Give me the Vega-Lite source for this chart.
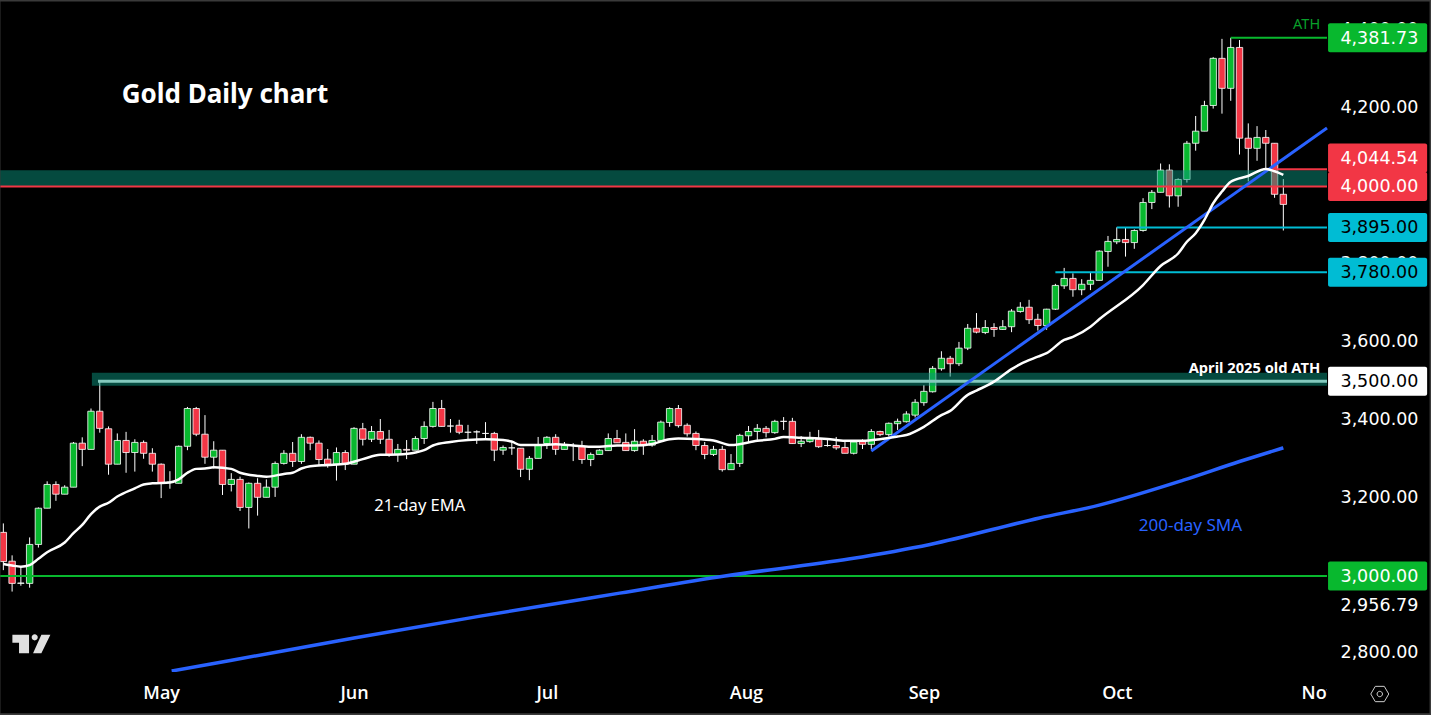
{
  "$schema": "https://vega.github.io/schema/vega-lite/v6.json",
  "width": 1327,
  "height": 672,
  "autosize": "none",
  "padding": {"left": 0, "top": 0, "right": 104, "bottom": 43},
  "background": "#000000",
  "config": {
    "view": {"stroke": null},
    "axis": {"grid": false, "domain": false, "ticks": false, "labelColor": "#ffffff", "labelFont": "DejaVu Sans"},
    "text": {"font": "DejaVu Sans"}
  },
  "datasets": {
    "candles": [
      {"i":0,"o":3112,"h":3135,"l":3015,"c":3037},{"i":1,"o":3038,"h":3053,"l":2960,"c":2981},{"i":2,"o":2981,"h":3024,"l":2975,"c":2982},{"i":3,"o":2981,"h":3099,"l":2970,"c":3081},
      {"i":4,"o":3081,"h":3176,"l":3073,"c":3174},{"i":5,"o":3174,"h":3243,"l":3174,"c":3235},{"i":6,"o":3235,"h":3243,"l":3193,"c":3210},{"i":7,"o":3210,"h":3233,"l":3210,"c":3228},
      {"i":8,"o":3228,"h":3344,"l":3228,"c":3341},{"i":9,"o":3341,"h":3356,"l":3282,"c":3325},{"i":10,"o":3325,"h":3430,"l":3325,"c":3423},{"i":11,"o":3423,"h":3500,"l":3368,"c":3379},
      {"i":12,"o":3378,"h":3384,"l":3260,"c":3287},{"i":13,"o":3287,"h":3366,"l":3287,"c":3348},{"i":14,"o":3348,"h":3370,"l":3265,"c":3317},{"i":15,"o":3317,"h":3351,"l":3268,"c":3343},
      {"i":16,"o":3343,"h":3348,"l":3301,"c":3315},{"i":17,"o":3315,"h":3328,"l":3268,"c":3287},{"i":18,"o":3287,"h":3289,"l":3200,"c":3240},{"i":19,"o":3240,"h":3269,"l":3224,"c":3241},
      {"i":20,"o":3238,"h":3335,"l":3238,"c":3333},{"i":21,"o":3333,"h":3434,"l":3323,"c":3430},{"i":22,"o":3430,"h":3434,"l":3359,"c":3364},{"i":23,"o":3364,"h":3413,"l":3288,"c":3305},
      {"i":24,"o":3305,"h":3346,"l":3276,"c":3323},{"i":25,"o":3323,"h":3323,"l":3208,"c":3235},{"i":26,"o":3235,"h":3264,"l":3217,"c":3248},{"i":27,"o":3248,"h":3255,"l":3167,"c":3176},
      {"i":28,"o":3176,"h":3240,"l":3122,"c":3238},{"i":29,"o":3238,"h":3251,"l":3155,"c":3202},{"i":30,"o":3202,"h":3248,"l":3202,"c":3228},{"i":31,"o":3228,"h":3294,"l":3203,"c":3289},
      {"i":32,"o":3289,"h":3323,"l":3286,"c":3315},{"i":33,"o":3315,"h":3344,"l":3280,"c":3294},{"i":34,"o":3294,"h":3364,"l":3288,"c":3356},{"i":35,"o":3356,"h":3358,"l":3323,"c":3341},
      {"i":36,"o":3341,"h":3348,"l":3283,"c":3299},{"i":37,"o":3300,"h":3326,"l":3278,"c":3287},{"i":38,"o":3287,"h":3330,"l":3245,"c":3317},{"i":39,"o":3317,"h":3323,"l":3272,"c":3287},
      {"i":40,"o":3287,"h":3382,"l":3287,"c":3379},{"i":41,"o":3378,"h":3393,"l":3335,"c":3351},{"i":42,"o":3351,"h":3385,"l":3344,"c":3371},{"i":43,"o":3371,"h":3403,"l":3339,"c":3351},
      {"i":44,"o":3351,"h":3375,"l":3306,"c":3312},{"i":45,"o":3312,"h":3339,"l":3293,"c":3325},{"i":46,"o":3325,"h":3349,"l":3300,"c":3323},{"i":47,"o":3323,"h":3359,"l":3323,"c":3353},
      {"i":48,"o":3353,"h":3397,"l":3339,"c":3384},{"i":49,"o":3384,"h":3447,"l":3381,"c":3430},{"i":50,"o":3430,"h":3452,"l":3384,"c":3384},{"i":51,"o":3385,"h":3403,"l":3368,"c":3385},
      {"i":52,"o":3387,"h":3401,"l":3364,"c":3369},{"i":53,"o":3369,"h":3388,"l":3349,"c":3369},{"i":54,"o":3370,"h":3374,"l":3339,"c":3370},{"i":55,"o":3366,"h":3395,"l":3351,"c":3366},
      {"i":56,"o":3366,"h":3370,"l":3295,"c":3323},{"i":57,"o":3323,"h":3335,"l":3311,"c":3330},{"i":58,"o":3329,"h":3348,"l":3311,"c":3329},{"i":59,"o":3328,"h":3328,"l":3254,"c":3274},
      {"i":60,"o":3274,"h":3308,"l":3246,"c":3302},{"i":61,"o":3302,"h":3357,"l":3302,"c":3335},{"i":62,"o":3340,"h":3359,"l":3326,"c":3356},{"i":63,"o":3356,"h":3364,"l":3311,"c":3325},
      {"i":64,"o":3325,"h":3344,"l":3325,"c":3335},{"i":65,"o":3335,"h":3341,"l":3295,"c":3335},{"i":66,"o":3333,"h":3347,"l":3288,"c":3299},{"i":67,"o":3299,"h":3317,"l":3282,"c":3312},
      {"i":68,"o":3312,"h":3325,"l":3312,"c":3323},{"i":69,"o":3322,"h":3366,"l":3322,"c":3353},{"i":70,"o":3353,"h":3375,"l":3342,"c":3342},{"i":71,"o":3343,"h":3366,"l":3322,"c":3322},
      {"i":72,"o":3322,"h":3377,"l":3319,"c":3346},{"i":73,"o":3346,"h":3351,"l":3311,"c":3336},{"i":74,"o":3336,"h":3362,"l":3332,"c":3348},{"i":75,"o":3348,"h":3399,"l":3347,"c":3395},
      {"i":76,"o":3394,"h":3433,"l":3383,"c":3430},{"i":77,"o":3430,"h":3439,"l":3381,"c":3386},{"i":78,"o":3387,"h":3392,"l":3358,"c":3365},{"i":79,"o":3366,"h":3371,"l":3323,"c":3335},
      {"i":80,"o":3335,"h":3344,"l":3300,"c":3312},{"i":81,"o":3312,"h":3334,"l":3308,"c":3325},{"i":82,"o":3325,"h":3334,"l":3268,"c":3273},{"i":83,"o":3273,"h":3313,"l":3273,"c":3289},
      {"i":84,"o":3289,"h":3365,"l":3280,"c":3361},{"i":85,"o":3360,"h":3385,"l":3344,"c":3371},{"i":86,"o":3371,"h":3390,"l":3349,"c":3379},{"i":87,"o":3379,"h":3385,"l":3356,"c":3368},
      {"i":88,"o":3368,"h":3401,"l":3365,"c":3397},{"i":89,"o":3397,"h":3408,"l":3375,"c":3397},{"i":90,"o":3397,"h":3406,"l":3340,"c":3340},{"i":91,"o":3340,"h":3359,"l":3331,"c":3346},
      {"i":92,"o":3345,"h":3370,"l":3342,"c":3352},{"i":93,"o":3351,"h":3375,"l":3329,"c":3332},{"i":94,"o":3335,"h":3351,"l":3332,"c":3335},{"i":95,"o":3335,"h":3357,"l":3324,"c":3329},
      {"i":96,"o":3330,"h":3344,"l":3315,"c":3315},{"i":97,"o":3315,"h":3346,"l":3312,"c":3344},{"i":98,"o":3345,"h":3351,"l":3326,"c":3338},{"i":99,"o":3338,"h":3377,"l":3326,"c":3371},
      {"i":100,"o":3371,"h":3373,"l":3359,"c":3363},{"i":101,"o":3363,"h":3394,"l":3358,"c":3392},{"i":102,"o":3391,"h":3404,"l":3375,"c":3397},{"i":103,"o":3396,"h":3423,"l":3394,"c":3416},
      {"i":104,"o":3413,"h":3454,"l":3407,"c":3446},{"i":105,"o":3445,"h":3490,"l":3437,"c":3474},{"i":106,"o":3473,"h":3539,"l":3471,"c":3533},{"i":107,"o":3532,"h":3577,"l":3527,"c":3559},
      {"i":108,"o":3559,"h":3565,"l":3512,"c":3545},{"i":109,"o":3545,"h":3601,"l":3539,"c":3585},{"i":110,"o":3585,"h":3647,"l":3580,"c":3636},{"i":111,"o":3636,"h":3675,"l":3623,"c":3626},
      {"i":112,"o":3625,"h":3657,"l":3621,"c":3638},{"i":113,"o":3638,"h":3649,"l":3614,"c":3633},{"i":114,"o":3633,"h":3657,"l":3632,"c":3640},{"i":115,"o":3640,"h":3685,"l":3626,"c":3680},
      {"i":116,"o":3679,"h":3703,"l":3676,"c":3690},{"i":117,"o":3690,"h":3709,"l":3647,"c":3658},{"i":118,"o":3659,"h":3673,"l":3630,"c":3643},{"i":119,"o":3643,"h":3686,"l":3632,"c":3685},
      {"i":120,"o":3685,"h":3750,"l":3683,"c":3746},{"i":121,"o":3745,"h":3791,"l":3737,"c":3764},{"i":122,"o":3764,"h":3777,"l":3717,"c":3735},{"i":123,"o":3735,"h":3762,"l":3721,"c":3749},
      {"i":124,"o":3749,"h":3779,"l":3734,"c":3759},{"i":125,"o":3759,"h":3836,"l":3759,"c":3834},{"i":126,"o":3833,"h":3873,"l":3794,"c":3859},{"i":127,"o":3858,"h":3895,"l":3852,"c":3864},
      {"i":128,"o":3864,"h":3895,"l":3820,"c":3856},{"i":129,"o":3856,"h":3890,"l":3840,"c":3887},{"i":130,"o":3887,"h":3970,"l":3884,"c":3959},{"i":131,"o":3959,"h":3991,"l":3942,"c":3985},
      {"i":132,"o":3985,"h":4059,"l":3985,"c":4042},{"i":133,"o":4042,"h":4057,"l":3946,"c":3976},{"i":134,"o":3976,"h":4021,"l":3948,"c":4018},{"i":135,"o":4018,"h":4117,"l":4010,"c":4111},
      {"i":136,"o":4111,"h":4181,"l":4092,"c":4142},{"i":137,"o":4142,"h":4220,"l":4142,"c":4208},{"i":138,"o":4208,"h":4332,"l":4200,"c":4329},{"i":139,"o":4329,"h":4379,"l":4187,"c":4252},
      {"i":140,"o":4252,"h":4381.73,"l":4220,"c":4357},{"i":141,"o":4357,"h":4376,"l":4082,"c":4124},{"i":142,"o":4124,"h":4162,"l":4013,"c":4098},{"i":143,"o":4098,"h":4155,"l":4066,"c":4126},
      {"i":144,"o":4126,"h":4145,"l":4042,"c":4111},{"i":145,"o":4111,"h":4111,"l":3971,"c":3980},{"i":146,"o":3980,"h":4019,"l":3887,"c":3954}
    ],
    "ema": [
      {"i":0,"p":3031},{"i":1,"p":3027},{"i":2,"p":3024},{"i":3,"p":3028},{"i":4,"p":3044},{"i":5,"p":3061},{"i":7,"p":3086},{"i":8,"p":3110},{"i":9,"p":3131},{"i":10,"p":3159},{"i":11,"p":3178},{"i":12,"p":3188},{"i":13,"p":3204},{"i":15,"p":3225},{"i":16,"p":3235},{"i":17,"p":3238},{"i":19,"p":3240},{"i":20,"p":3248},{"i":21,"p":3265},{"i":22,"p":3275},{"i":23,"p":3276},{"i":24,"p":3279},{"i":26,"p":3275},{"i":27,"p":3265},{"i":29,"p":3257},{"i":30,"p":3255},{"i":32,"p":3262},{"i":33,"p":3265},
      {"i":34,"p":3276},{"i":35,"p":3282},{"i":37,"p":3285},{"i":39,"p":3288},{"i":41,"p":3300},{"i":43,"p":3311},{"i":45,"p":3312},{"i":47,"p":3317},{"i":48,"p":3323},{"i":49,"p":3335},{"i":51,"p":3344},{"i":53,"p":3349},{"i":55,"p":3351},{"i":57,"p":3349},{"i":58,"p":3345},{"i":59,"p":3336},{"i":61,"p":3336},{"i":63,"p":3338},{"i":65,"p":3335},{"i":67,"p":3332},
      {"i":68,"p":3332},{"i":70,"p":3335},{"i":72,"p":3335},{"i":74,"p":3339},{"i":76,"p":3351},{"i":77,"p":3353},{"i":79,"p":3352},{"i":81,"p":3348},{"i":83,"p":3336},{"i":86,"p":3347},{"i":88,"p":3352},{"i":89,"p":3357},{"i":91,"p":3355},{"i":94,"p":3352},{"i":96,"p":3347},{"i":98,"p":3347},{"i":100,"p":3351},{"i":102,"p":3358},
      {"i":103,"p":3362},{"i":105,"p":3383},{"i":107,"p":3413},{"i":108,"p":3424},{"i":110,"p":3465},{"i":111,"p":3476},{"i":113,"p":3499},{"i":115,"p":3531},{"i":116,"p":3544},{"i":118,"p":3563},{"i":119,"p":3572},{"i":121,"p":3606},{"i":122,"p":3614},{"i":124,"p":3640},{"i":125,"p":3659},
      {"i":130,"p":3747},{"i":132,"p":3796},{"i":134,"p":3828},{"i":135,"p":3858},{"i":136,"p":3880},{"i":137,"p":3914},{"i":138,"p":3957},{"i":139,"p":3987},{"i":140,"p":4012},{"i":142,"p":4027},{"i":144,"p":4045},{"i":145,"p":4039},{"i":146,"p":4030}
    ],
    "sma": [
      {"i":19.2,"p":2756},{"i":25.9,"p":2783},{"i":40,"p":2841},{"i":54.4,"p":2897},{"i":70.3,"p":2956},{"i":82.3,"p":3000},{"i":96.6,"p":3044},{"i":105.7,"p":3081},{"i":118.2,"p":3149},{"i":125,"p":3182},{"i":134.6,"p":3246},{"i":141,"p":3294},{"i":146,"p":3329}
    ],
    "trend": [{"i":99,"p":3321},{"i":150.98,"p":4150}],
    "zones": [
      {"i":-0.38,"i2":150.98,"lo":4000,"hi":4042},
      {"i":10.1,"i2":150.98,"lo":3488.6,"hi":3522}
    ],
    "levels": [
      {"level":"red","i":-0.38,"i2":150.98,"p":4000},
      {"level":"red","i":145.3,"i2":150.98,"p":4044.54},
      {"level":"cyan","i":127,"i2":150.98,"p":3895},
      {"level":"cyan","i":120,"i2":150.98,"p":3780},
      {"level":"green","i":-0.38,"i2":150.98,"p":3000},
      {"level":"green","i":140,"i2":150.98,"p":4381.73}
    ],
    "tags": [
      {"label":"4,381.73","at":4381.73,"kind":"green"},
      {"label":"4,044.54","at":4073,"kind":"red"},
      {"label":"4,000.00","at":4000,"kind":"red"},
      {"label":"3,895.00","at":3895,"kind":"cyan"},
      {"label":"3,780.00","at":3780,"kind":"cyan"},
      {"label":"3,500.00","at":3500,"kind":"white"},
      {"label":"3,000.00","at":3000,"kind":"green"}
    ]
  },
  "layer": [
    {
      "data": {"name": "candles"},
      "mark": {"type": "rule", "color": "#ffffff", "strokeWidth": 1},
      "encoding": {
        "x": {
          "field": "i", "type": "quantitative",
          "scale": {"domain": [-0.38, 150.98], "nice": false, "zero": false, "padding": 0},
          "axis": {
            "title": null, "orient": "bottom", "zindex": 0,
            "values": [18, 40, 62, 84.7, 105, 127, 150],
            "labelExpr": "{'18':'May','40':'Jun','62':'Jul','84.7':'Aug','105':'Sep','127':'Oct','150':'Nov'}[datum.value]",
            "labelFont": "Open Sans", "labelFontWeight": 600, "labelFontSize": 18, "labelPadding": 12, "labelOverlap": false, "labelBound": false, "labelFlush": false
          }
        },
        "y": {
          "field": "h", "type": "quantitative",
          "scale": {"domain": [2753.5, 4478.8], "nice": false, "zero": false},
          "axis": {
            "title": null, "orient": "right", "zindex": 0,
            "values": [2800, 3000, 3200, 3400, 3600, 3800, 4000, 4200, 4400],
            "format": ",.2f",
            "labelFontSize": 17.5, "labelAlign": "right", "labelPadding": 91, "labelOffset": -1, "labelOverlap": false, "labelBound": false, "labelFlush": false
          }
        },
        "y2": {"field": "l"}
      }
    },
    {
      "data": {"name": "candles"},
      "mark": {"type": "bar", "orient": "vertical", "size": 6.4, "stroke": "#ffffff", "strokeWidth": 0.8},
      "encoding": {
        "x": {"field": "i", "type": "quantitative", "title": null},
        "y": {"field": "o", "type": "quantitative", "title": null},
        "y2": {"field": "c"},
        "fill": {"condition": {"test": "datum.c >= datum.o", "value": "#08b82e"}, "value": "#f23645"}
      }
    },
    {
      "data": {"values": [{"i": 10.8, "i2": 150.98, "p": 3500}]},
      "mark": {"type": "rule", "color": "#ffffff", "strokeWidth": 3},
      "encoding": {
        "x": {"field": "i", "type": "quantitative", "title": null},
        "x2": {"field": "i2"},
        "y": {"field": "p", "type": "quantitative", "title": null}
      }
    },
    {
      "data": {"name": "zones"},
      "mark": {"type": "rect", "fill": "#0a947e", "opacity": 0.5},
      "encoding": {
        "x": {"field": "i", "type": "quantitative", "title": null},
        "x2": {"field": "i2"},
        "y": {"field": "lo", "type": "quantitative", "title": null},
        "y2": {"field": "hi"}
      }
    },
    {
      "data": {"name": "levels"},
      "mark": {"type": "rule", "strokeWidth": 2},
      "encoding": {
        "x": {"field": "i", "type": "quantitative", "title": null},
        "x2": {"field": "i2"},
        "y": {"field": "p", "type": "quantitative", "title": null},
        "color": {"field": "level", "type": "nominal", "legend": null, "scale": {"domain": ["red", "cyan", "green"], "range": ["#f23645", "#00bcd4", "#08b82e"]}}
      }
    },
    {
      "data": {"name": "trend"},
      "mark": {"type": "line", "color": "#2962ff", "strokeWidth": 3},
      "encoding": {
        "x": {"field": "i", "type": "quantitative", "title": null},
        "y": {"field": "p", "type": "quantitative", "title": null}
      }
    },
    {
      "data": {"name": "ema"},
      "mark": {"type": "line", "color": "#ffffff", "strokeWidth": 2.5, "interpolate": "monotone"},
      "encoding": {
        "x": {"field": "i", "type": "quantitative", "title": null},
        "y": {"field": "p", "type": "quantitative", "title": null}
      }
    },
    {
      "data": {"name": "sma"},
      "mark": {"type": "line", "color": "#2962ff", "strokeWidth": 3.5, "clip": true, "interpolate": "monotone"},
      "encoding": {
        "x": {"field": "i", "type": "quantitative", "title": null},
        "y": {"field": "p", "type": "quantitative", "title": null}
      }
    },
    {
      "data": {"values": [{"i": 150.98, "i2": 163, "hi": 2732, "lo": 2668}]},
      "mark": {"type": "rect", "fill": "#000000"},
      "encoding": {
        "x": {"field": "i", "type": "quantitative", "title": null},
        "x2": {"field": "i2"},
        "y": {"field": "hi", "type": "quantitative", "title": null},
        "y2": {"field": "lo"}
      }
    },
    {
      "data": {"name": "tags"},
      "mark": {"type": "rect", "height": 29, "cornerRadius": 2},
      "encoding": {
        "x": {"datum": 151.1, "type": "quantitative", "title": null},
        "x2": {"datum": 162.4},
        "y": {"field": "at", "type": "quantitative", "title": null},
        "fill": {"field": "kind", "type": "nominal", "legend": null, "scale": {"domain": ["green", "red", "cyan", "white"], "range": ["#08b82e", "#f23645", "#00bcd4", "#ffffff"]}}
      }
    },
    {
      "data": {"name": "tags"},
      "mark": {"type": "text", "align": "right", "fontSize": 17.5, "dy": 1},
      "encoding": {
        "x": {"datum": 161.4, "type": "quantitative", "title": null},
        "y": {"field": "at", "type": "quantitative", "title": null},
        "text": {"field": "label"},
        "color": {"condition": {"test": "datum.kind === 'cyan' || datum.kind === 'white'", "value": "#000000"}, "value": "#ffffff"}
      }
    },
    {
      "data": {"values": [{"p": 2956.79, "label": "2,956.79"}]},
      "mark": {"type": "text", "align": "right", "fontSize": 17.5, "color": "#ffffff", "dy": 13},
      "encoding": {
        "x": {"datum": 161.4, "type": "quantitative", "title": null},
        "y": {"field": "p", "type": "quantitative", "title": null},
        "text": {"field": "label"}
      }
    },
    {
      "data": {"values": [{"i": 13.5, "p": 4235, "label": "Gold Daily chart"}]},
      "mark": {"type": "text", "align": "left", "font": "Noto Sans", "fontWeight": 700, "fontSize": 26, "color": "#ffffff"},
      "encoding": {
        "x": {"field": "i", "type": "quantitative", "title": null},
        "y": {"field": "p", "type": "quantitative", "title": null},
        "text": {"field": "label"}
      }
    },
    {
      "data": {"values": [{"i": 150.2, "p": 4414.7, "label": "ATH"}]},
      "mark": {"type": "text", "align": "right", "font": "Noto Sans", "fontSize": 14.5, "color": "#089f2a"},
      "encoding": {
        "x": {"field": "i", "type": "quantitative", "title": null},
        "y": {"field": "p", "type": "quantitative", "title": null},
        "text": {"field": "label"}
      }
    },
    {
      "data": {"values": [{"i": 150.2, "p": 3532, "label": "April 2025 old ATH"}]},
      "mark": {"type": "text", "align": "right", "font": "Noto Sans", "fontWeight": 700, "fontSize": 14.7, "color": "#ffffff"},
      "encoding": {
        "x": {"field": "i", "type": "quantitative", "title": null},
        "y": {"field": "p", "type": "quantitative", "title": null},
        "text": {"field": "label"}
      }
    },
    {
      "data": {"values": [{"i": 47.5, "p": 3179.7, "label": "21-day EMA"}]},
      "mark": {"type": "text", "align": "center", "font": "Noto Sans", "fontSize": 16.5, "color": "#ffffff"},
      "encoding": {
        "x": {"field": "i", "type": "quantitative", "title": null},
        "y": {"field": "p", "type": "quantitative", "title": null},
        "text": {"field": "label"}
      }
    },
    {
      "data": {"values": [{"i": 135.4, "p": 3128, "label": "200-day SMA"}]},
      "mark": {"type": "text", "align": "center", "font": "Noto Sans", "fontSize": 17, "color": "#2962ff"},
      "encoding": {
        "x": {"field": "i", "type": "quantitative", "title": null},
        "y": {"field": "p", "type": "quantitative", "title": null},
        "text": {"field": "label"}
      }
    },
    {
      "data": {"values": [{"i": 3.2, "p": 2825.4}]},
      "mark": {
        "type": "point", "filled": true, "color": "#e0e0e0", "opacity": 1, "size": 1444,
        "shape": "M-1 -.49 L-.123 -.49 L-.123 .49 L-.65 .49 L-.65 -.07 L-1 -.07 Z M.015 -.35 a.16 .16 0 1 0 .32 0 a.16 .16 0 1 0 -.32 0 Z M.526 -.49 L1 -.49 L.526 .49 L.088 .49 Z"
      },
      "encoding": {
        "x": {"field": "i", "type": "quantitative", "title": null},
        "y": {"field": "p", "type": "quantitative", "title": null}
      }
    },
    {
      "data": {"values": [{"i": 157, "p": 2697}]},
      "mark": {
        "type": "point", "filled": false, "color": "#cccccc", "opacity": 1, "strokeWidth": 1, "size": 324,
        "shape": "M-1 0 L-.5 -.85 L.5 -.85 L1 0 L.5 .85 L-.5 .85 Z M.3 0 a.3 .3 0 1 0 -.6 0 a.3 .3 0 1 0 .6 0 Z"
      },
      "encoding": {
        "x": {"field": "i", "type": "quantitative", "title": null},
        "y": {"field": "p", "type": "quantitative", "title": null}
      }
    },
    {
      "data": {"values": [{"i": -0.5, "i2": 162.85, "hi": 4478.8, "lo": 2643.5}]},
      "mark": {"type": "rect", "filled": false, "stroke": "#3a3a3a", "strokeWidth": 3},
      "encoding": {
        "x": {"field": "i", "type": "quantitative", "title": null},
        "x2": {"field": "i2"},
        "y": {"field": "hi", "type": "quantitative", "title": null},
        "y2": {"field": "lo"}
      }
    }
  ]
}
